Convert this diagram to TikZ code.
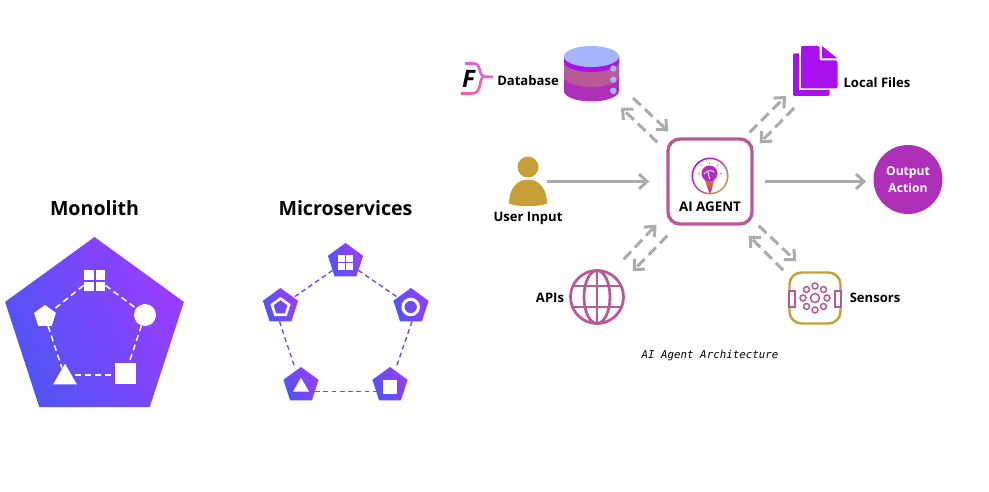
\documentclass[tikz,border=0pt]{standalone}
\usepackage{fontspec}
\setmainfont{Open Sans}
\newfontfamily\capfont{DejaVu Sans Mono}
\usepackage{tikz}
\usetikzlibrary{shapes,arrows.meta,positioning,calc}

\newcommand{\pxu}{0.75pt}

\definecolor{blueend}{HTML}{4F55F5}
\definecolor{violetend}{HTML}{9A3CFF}
\definecolor{midviolet}{HTML}{7446F8}
\definecolor{arrowgrey}{HTML}{ABABAB}
\definecolor{mauve}{HTML}{B85A96}
\definecolor{gold}{HTML}{C6A036}
\definecolor{vivid}{HTML}{AA10EE}
\definecolor{plum}{HTML}{AE2FB8}
\definecolor{paleblue}{HTML}{A5B6FC}

\tikzset{
  title/.style={font=\fontsize{14.7}{18}\selectfont\bfseries, inner sep=0pt},
  label/.style={font=\fontsize{9.8}{12}\selectfont\bfseries, inner sep=0pt},
  penta/.style={regular polygon, regular polygon sides=5, inner sep=0pt, outer sep=0pt,
    left color=blueend, right color=violetend, shading angle=115},
  whitepenta/.style={regular polygon, regular polygon sides=5, inner sep=0pt, fill=white},
  whitetri/.style={regular polygon, regular polygon sides=3, inner sep=0pt, fill=white},
  whitebox/.style={rectangle, inner sep=0pt, fill=white},
  whitedisc/.style={circle, inner sep=0pt, fill=white},
  monolink/.style={white, line width=1.5*\pxu, dash pattern=on 4.5pt off 3pt},
  microlink/.style={midviolet, line width=1.4*\pxu, dash pattern=on 3.6pt off 2.6pt},
  ghost/.style={rectangle, inner sep=0pt, outer sep=0pt},
  flow/.style={arrowgrey, line width=3*\pxu, -{Straight Barb[length=6pt,width=11pt,line width=3*\pxu]}},
  dataflow/.style={flow, dash pattern=on 8pt off 4.2pt},
  sensdot/.style={mauve, line width=1.5*\pxu}
}

\begin{document}
\begin{tikzpicture}[x=\pxu,y=-\pxu]
\useasboundingbox (0,0) rectangle (989,492);

% Titles
\node[title] (monotitle) at (94.5,208.5) {Monolith};
\node[title] (microtitle) at (345.5,208.5) {Microservices};

% Monolith
\node[penta, minimum size=188*\pxu] (mono) at (94.5,331) {};
\node[whitebox, minimum size=21.5*\pxu] (mgrid) at (94.5,280.5) {};
\node[whitepenta, minimum size=23*\pxu] (mpenta) at (45,316.5) {};
\node[whitedisc, minimum size=22*\pxu] (mdisc) at (145,315) {};
\node[whitebox, minimum size=21.5*\pxu] (mbox) at (125.5,373.5) {};
\node[whitetri, minimum size=27.5*\pxu] (mtri) at (65,377.5) {};
\draw[midviolet, line width=2*\pxu] (mgrid.north) -- (mgrid.south);
\draw[midviolet, line width=2*\pxu] (mgrid.west) -- (mgrid.east);
\draw[monolink] ($(mgrid.west)+(0,5)$) -- (mpenta);
\draw[monolink] ($(mgrid.east)+(0,5)$) -- (mdisc);
\draw[monolink] (mpenta) -- (mtri);
\draw[monolink] (mdisc) -- (mbox);
\draw[monolink] ($(mtri)+(0,-2.5)$) -- ($(mbox)+(0,1.5)$);

% Microservices
\node[penta, minimum size=37*\pxu] (sgrid) at (345.5,261.5) {};
\node[penta, minimum size=37*\pxu] (spenta) at (280.5,306.5) {};
\node[penta, minimum size=37*\pxu] (sdisc) at (411,306.5) {};
\node[penta, minimum size=37*\pxu] (stri) at (301,385.5) {};
\node[penta, minimum size=37*\pxu] (sbox) at (390,385.5) {};
\draw[microlink] (sgrid) -- (spenta);
\draw[microlink] (sgrid) -- (sdisc);
\draw[microlink] ($(spenta.south)+(-1,0)$) -- ($(stri.north)+(-6,1)$);
\draw[microlink] ($(sdisc.south)+(1,0)$) -- ($(sbox.north)+(6,1)$);
\draw[microlink] ($(stri)+(14,6)$) -- ($(sbox)+(-14,6)$);

% Icons inside the small pentagons
\node[whitebox, minimum size=14.5*\pxu] (sgridin) at (345.7,262.5) {};
\draw[midviolet, line width=1.5*\pxu] (sgridin.north) -- (sgridin.south);
\draw[midviolet, line width=1.5*\pxu] (sgridin.west) -- (sgridin.east);
\node[regular polygon, regular polygon sides=5, inner sep=0pt, draw=white, line width=2.6*\pxu, minimum size=18*\pxu] (spentain) at (280.5,307.5) {};
\node[circle, inner sep=0pt, draw=white, line width=3*\pxu, minimum size=15.5*\pxu] (sdiscin) at (410.7,307) {};
\node[whitetri, minimum size=18.5*\pxu] (striin) at (301,387) {};
\node[whitebox, minimum size=14*\pxu] (sboxin) at (390.3,387) {};

% Agent box
\node[rectangle, rounded corners=9pt, draw=mauve, fill=white, line width=3.4*\pxu, minimum width=84*\pxu, minimum height=85*\pxu, inner sep=0pt] (agent) at (710,181.5) {};
\node[label, font=\fontsize{10}{12}\selectfont\bfseries] (agentlabel) at (710,206.5) {AI AGENT};

% Bulb in the agent box
\shade[left color=vivid, right color=gold, shading angle=45] (710,176) circle (18.5);
\fill[white] (710,176) circle (16.8);
\shade[top color=orange!70!brown, bottom color=plum] (704.5,179) -- (714.5,179) -- (711,192.5) -- (709,192.5) -- cycle;
\fill[plum] (709.5,173.5) circle (8);
\draw[white, line width=0.8*\pxu] (704,174) .. controls (707,170) and (711,170) .. (714,172);
\draw[white, line width=0.8*\pxu] (708,172) -- (709.5,179);
\draw[plum!60, line width=0.9*\pxu] (709.5,163.5) -- (709.5,161.5);
\draw[plum!60, line width=0.9*\pxu] (702,166) -- (700.5,164.5);
\draw[plum!60, line width=0.9*\pxu] (717,166) -- (718.5,164.5);
\draw[plum!60, line width=0.9*\pxu] (699.5,173.5) -- (697.5,173.5);
\draw[plum!60, line width=0.9*\pxu] (719.5,173.5) -- (721.5,173.5);

% Logo
\node[font=\fontsize{18}{18}\selectfont\bfseries\itshape, inner sep=0pt] (logo) at (468.5,78.5) {F};
\draw[line width=2.6*\pxu, color=plum!60!magenta!70] (465,63.5) -- (474,63.5) .. controls (482,63.5) and (478,76) .. (484,76.5) -- (493,77);
\draw[line width=2.6*\pxu, color=red!55!magenta!65] (484,76.5) .. controls (478,78) and (483,93) .. (472,93.5) -- (461,93.5);

% Database
\node[ghost, minimum width=55*\pxu, minimum height=56*\pxu] (db) at (591.5,73.5) {};
\fill[plum] (564,56) -- (564,91) arc[start angle=180,end angle=0,x radius=27.5,y radius=10.5] -- (619,56) -- cycle;
\fill[mauve] (564,56) -- (564,76.5) arc[start angle=180,end angle=0,x radius=27.5,y radius=10.5] -- (619,56) -- cycle;
\fill[vivid] (564,56) -- (564,61.5) arc[start angle=180,end angle=0,x radius=27.5,y radius=10.5] -- (619,56) -- cycle;
\fill[paleblue] (591.5,56.5) ellipse (27.5 and 10.5);
\fill[paleblue] (613.3,68.5) circle (3.2);
\fill[paleblue] (613.3,79.8) circle (3.2);
\fill[paleblue] (613.3,90.8) circle (3.2);
\node[label] (dblabel) at (528,80.5) {Database};

% Local files
\node[ghost, minimum width=44*\pxu, minimum height=50*\pxu] (files) at (815,71) {};
\fill[vivid, rounded corners=1pt] (793,53.5) rectangle (829.5,96);
\fill[white] (799,46) rectangle (839,90.5);
\fill[vivid, rounded corners=1pt] (801,46) -- (819.5,46) -- (819.5,60.5) -- (837.5,60.5) -- (837.5,88.5) -- (801,88.5) -- cycle;
\fill[vivid] (822,46) -- (837.5,58.5) -- (822,58.5) -- cycle;
\node[label] (fileslabel) at (877,83) {Local Files};

% User
\node[ghost, minimum width=38*\pxu, minimum height=50*\pxu] (user) at (528,181.5) {};
\fill[gold] (528,167) circle (10.5);
\fill[gold] (509,203.5) .. controls (509,190) and (516,179.5) .. (528,179.5) .. controls (540,179.5) and (547,190) .. (547,203.5) .. controls (540,207) and (516,207) .. (509,203.5) -- cycle;
\node[label] (userlabel) at (528,218.5) {User Input};

% Output
\node[circle, fill=plum, text=white, minimum size=69*\pxu, inner sep=0pt, align=center, font=\fontsize{9.1}{12.4}\selectfont\bfseries] (output) at (908,179.5) {Output\\Action};

% APIs
\node[circle, draw=mauve, line width=2.8*\pxu, minimum size=53*\pxu, inner sep=0pt] (apis) at (597,297) {};
\draw[mauve, line width=2.8*\pxu] (apis.north) -- (apis.south);
\draw[mauve, line width=2.8*\pxu] (597,297) ellipse (13 and 26.5);
\draw[mauve, line width=2.8*\pxu] (574,286) -- (620,286);
\draw[mauve, line width=2.8*\pxu] (574,307) -- (620,307);
\node[label] (apilabel) at (550,298) {APIs};

% Sensors
\node[rectangle, rounded corners=9pt, draw=gold, line width=2.4*\pxu, minimum size=51*\pxu, inner sep=0pt] (sensors) at (815,298) {};
\draw[mauve, line width=1.8*\pxu, fill=white] (789,291) rectangle (795,307);
\draw[mauve, line width=1.8*\pxu, fill=white] (835,291) rectangle (841,307);
\draw[sensdot] (sensors) circle (4.5);
\draw[sensdot] ($(sensors)+(0:12)$) circle (3);
\draw[sensdot] ($(sensors)+(45:12)$) circle (3);
\draw[sensdot] ($(sensors)+(90:12)$) circle (3);
\draw[sensdot] ($(sensors)+(135:12)$) circle (3);
\draw[sensdot] ($(sensors)+(180:12)$) circle (3);
\draw[sensdot] ($(sensors)+(225:12)$) circle (3);
\draw[sensdot] ($(sensors)+(270:12)$) circle (3);
\draw[sensdot] ($(sensors)+(315:12)$) circle (3);
\node[label] (senslabel) at (875,298) {Sensors};

% Arrows
\draw[flow, shorten >=17*\pxu] (user.east) -- (agent.west);
\draw[flow, shorten <=11*\pxu, shorten >=7*\pxu] (agent.east) -- (agent.east -| output.west);
\draw[dataflow] ($(db.south east)+(14,-3.5)$) -- ($(agent.north west)+(2,-6)$);
\draw[dataflow] ($(agent.north west)+(-9,5)$) -- ($(db.south east)+(2,6)$);
\draw[dataflow] ($(agent.north east)+(-4,-5)$) -- ($(files.south west)+(-7,0)$);
\draw[dataflow] ($(files.south west)+(1,12)$) -- ($(agent.north east)+(6,6)$);
\draw[dataflow] ($(apis.north east)+(7,-18)$) -- ($(agent.south west)+(-10,-1)$);
\draw[dataflow] ($(agent.south west)+(1,10)$) -- ($(apis.north east)+(16,-6)$);
\draw[dataflow] ($(agent.south east)+(5,0)$) -- ($(sensors.north west)+(8,-10)$);
\draw[dataflow] ($(sensors.north west)+(-5,-1)$) -- ($(agent.south east)+(-5,10)$);

% Caption
\node[font=\capfont\itshape\fontsize{8.1}{10}\selectfont, inner sep=0pt] (caption) at (710,355.5) {AI Agent Architecture};

\end{tikzpicture}
\end{document}
